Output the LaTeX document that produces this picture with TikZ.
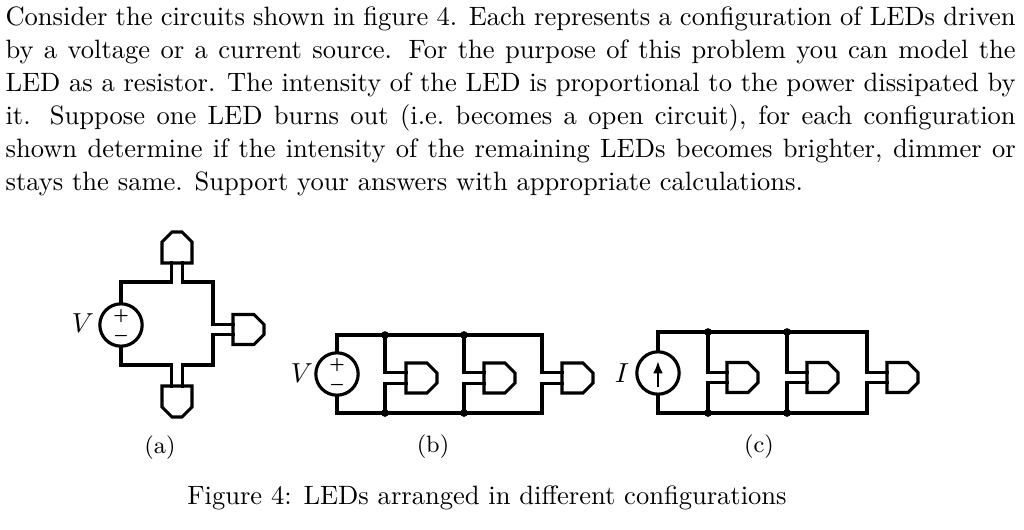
\documentclass[tikz,border=0pt]{standalone}
\usepackage{amsfonts, amssymb, amsmath}
\usepackage{tikz}
\usetikzlibrary{arrows.meta}
\tikzset{
    wire/.style={line width=1.15pt, line join=miter, line cap=rect},
    source/.style={circle, draw, line width=1.15pt, minimum size=15.4pt, inner sep=0pt},
    junction/.style={circle, fill=black, minimum size=2.8pt, inner sep=0pt},
    label/.style={inner sep=0pt, font=\fontsize{9.65}{12}\selectfont},
    sublabel/.style={inner sep=0pt, font=\fontsize{8.6}{10}\selectfont},
    polarity/.style={inner sep=0pt, font=\fontsize{5.5}{6}\selectfont\boldmath},
    led/.pic={
        \draw[wire] (0,-15) -- (21,-15) -- (31,-5) -- (31,5) -- (21,15) -- (0,15) -- cycle;
        \coordinate (-p) at (0,-5.3);
        \coordinate (-n) at (0,5.3);
    }
}

\begin{document}
\begin{tikzpicture}[x=0.3636pt, y=-0.3636pt]
    \useasboundingbox (0,0) rectangle (1024,529);

    % problem text
    \node[label, anchor=north west, text width=367.3pt, align=justify] (problem) at (5,6) {Consider the circuits shown in figure 4. Each represents a configuration of LEDs driven\linebreak
    by a voltage or a current source. For the purpose of this problem you can model the\linebreak
    LED as a resistor. The intensity of the LED is proportional to the power dissipated by\linebreak
    it. Suppose one LED burns out (i.e.\ becomes a open circuit), for each configuration\linebreak
    shown determine if the intensity of the remaining LEDs becomes brighter, dimmer or\linebreak
    stays the same. Support your answers with appropriate calculations.};

    % (a)
    \node[source] (srca) at (121,325) {};
    \node[polarity] (plusa) at (121,316) {$+$};
    \node[polarity] (minusa) at (121,336) {$-$};
    \node[label] (va) at (83,323) {$V$};
    \coordinate (wtop) at (213,282);
    \coordinate (wbot) at (213,365);
    \pic (top) at (177,263) [rotate=90] {led};
    \pic (rgt) at (233,329.5) {led};
    \pic (bot) at (177,386) [rotate=-90] {led};
    \draw[wire] (srca.north) |- (top-p |- wtop) -- (top-p);
    \draw[wire] (top-n) -- (top-n |- wtop) -- (wtop) |- (rgt-p);
    \draw[wire] (rgt-n) -| (wbot) -- (bot-p |- wbot) -- (bot-p);
    \draw[wire] (srca.south) |- (bot-n |- wbot) -- (bot-n);
    \node[sublabel] (capa) at (160,448) {(a)};

    % (b)
    \node[source] (srcb) at (337,374) {};
    \node[polarity] (plusb) at (337,365) {$+$};
    \node[polarity] (minusb) at (337,385) {$-$};
    \node[label] (vb) at (302,373) {$V$};
    \coordinate (tb1) at (385,335);
    \coordinate (tb2) at (464,335);
    \coordinate (tb3) at (542,335);
    \coordinate (bb1) at (385,413);
    \coordinate (bb2) at (464,413);
    \coordinate (bb3) at (542,413);
    \pic (b1) at (406,378) {led};
    \pic (b2) at (484,378) {led};
    \pic (b3) at (562,378) {led};
    \draw[wire] (srcb.north) |- (tb3);
    \draw[wire] (srcb.south) |- (bb3);
    \foreach \i in {1,2,3} {
        \draw[wire] (tb\i) |- (b\i-p);
        \draw[wire] (bb\i) |- (b\i-n);
    }
    \node[junction] (jb1) at (tb1) {};
    \node[junction] (jb2) at (tb2) {};
    \node[junction] (jb3) at (bb1) {};
    \node[junction] (jb4) at (bb2) {};
    \node[sublabel] (capb) at (433,447) {(b)};

    % (c)
    \node[source] (srcc) at (658,373) {};
    \coordinate (ctail) at (658,387);
    \coordinate (chead) at (658,361);
    \draw[line width=0.9pt, -{Latex[length=4.5pt,width=3.6pt]}] (ctail) -- (chead);
    \node[label] (ic) at (622,373) {$I$};
    \coordinate (tc1) at (708,332);
    \coordinate (tc2) at (787,332);
    \coordinate (tc3) at (867,332);
    \coordinate (bc1) at (708,413);
    \coordinate (bc2) at (787,413);
    \coordinate (bc3) at (867,413);
    \pic (c1) at (727,377.5) {led};
    \pic (c2) at (807,377.5) {led};
    \pic (c3) at (887,377.5) {led};
    \draw[wire] (srcc.north) |- (tc3);
    \draw[wire] (srcc.south) |- (bc3);
    \foreach \i in {1,2,3} {
        \draw[wire] (tc\i) |- (c\i-p);
        \draw[wire] (bc\i) |- (c\i-n);
    }
    \node[junction] (jc1) at (tc1) {};
    \node[junction] (jc2) at (tc2) {};
    \node[junction] (jc3) at (bc1) {};
    \node[junction] (jc4) at (bc2) {};
    \node[sublabel] (capc) at (759,447) {(c)};

    \node[label] (caption) at (487,498) {Figure 4: LEDs arranged in different configurations};
\end{tikzpicture}
\end{document}
